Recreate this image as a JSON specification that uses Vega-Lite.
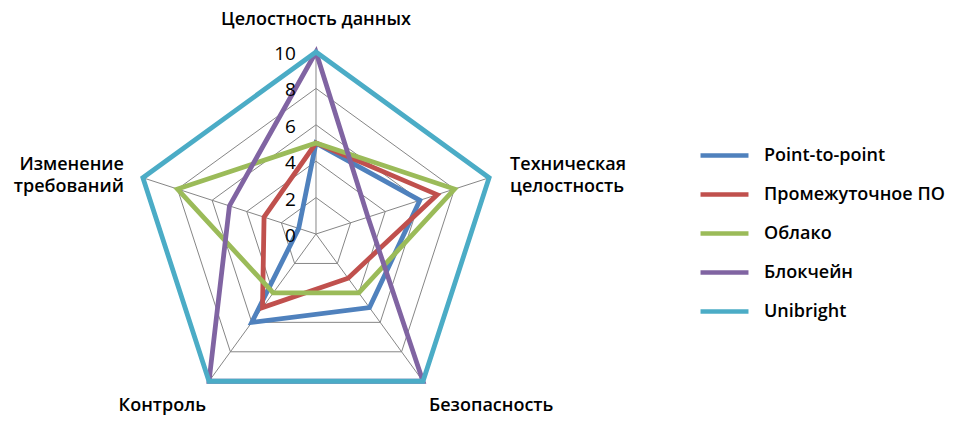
{
  "$schema": "https://vega.github.io/schema/vega-lite/v6.json",
  "width": 960,
  "height": 426,
  "autosize": "none",
  "padding": 0,
  "background": "white",
  "config": {
    "view": {"stroke": null},
    "font": "Open Sans",
    "legend": {
      "orient": "none",
      "legendX": 698,
      "legendY": 129,
      "title": null,
      "symbolType": "stroke",
      "symbolSize": 2300,
      "symbolStrokeWidth": 4.5,
      "labelFont": "Open Sans",
      "labelFontSize": 18,
      "labelFontWeight": 600,
      "labelColor": "#000000",
      "labelLimit": 400,
      "labelOffset": 13,
      "rowPadding": 3
    }
  },
  "datasets": {
    "scores": [
      {"series": "Point-to-point", "axis": "Целостность данных", "value": 5},
      {"series": "Point-to-point", "axis": "Техническая целостность", "value": 6},
      {"series": "Point-to-point", "axis": "Безопасность", "value": 5},
      {"series": "Point-to-point", "axis": "Контроль", "value": 6},
      {"series": "Point-to-point", "axis": "Изменение требований", "value": 1},
      {"series": "Промежуточное ПО", "axis": "Целостность данных", "value": 5},
      {"series": "Промежуточное ПО", "axis": "Техническая целостность", "value": 7},
      {"series": "Промежуточное ПО", "axis": "Безопасность", "value": 3},
      {"series": "Промежуточное ПО", "axis": "Контроль", "value": 5},
      {"series": "Промежуточное ПО", "axis": "Изменение требований", "value": 3},
      {"series": "Облако", "axis": "Целостность данных", "value": 5},
      {"series": "Облако", "axis": "Техническая целостность", "value": 8},
      {"series": "Облако", "axis": "Безопасность", "value": 4},
      {"series": "Облако", "axis": "Контроль", "value": 4},
      {"series": "Облако", "axis": "Изменение требований", "value": 8},
      {"series": "Блокчейн", "axis": "Целостность данных", "value": 10},
      {"series": "Блокчейн", "axis": "Техническая целостность", "value": 3},
      {"series": "Блокчейн", "axis": "Безопасность", "value": 10},
      {"series": "Блокчейн", "axis": "Контроль", "value": 10},
      {"series": "Блокчейн", "axis": "Изменение требований", "value": 5},
      {"series": "Unibright", "axis": "Целостность данных", "value": 10},
      {"series": "Unibright", "axis": "Техническая целостность", "value": 10},
      {"series": "Unibright", "axis": "Безопасность", "value": 10},
      {"series": "Unibright", "axis": "Контроль", "value": 10},
      {"series": "Unibright", "axis": "Изменение требований", "value": 10}
    ],
    "axes": [
      {"axis": "Целостность данных", "levels": [2, 4, 6, 8, 10]},
      {"axis": "Техническая целостность", "levels": [2, 4, 6, 8, 10]},
      {"axis": "Безопасность", "levels": [2, 4, 6, 8, 10]},
      {"axis": "Контроль", "levels": [2, 4, 6, 8, 10]},
      {"axis": "Изменение требований", "levels": [2, 4, 6, 8, 10]}
    ],
    "ticks": [
      {"tick": 0}, {"tick": 2}, {"tick": 4}, {"tick": 6}, {"tick": 8}, {"tick": 10}
    ]
  },
  "layer": [
    {
      "data": {"name": "axes"},
      "transform": [
        {"flatten": ["levels"], "as": ["level"]},
        {"calculate": "indexof(['Целостность данных','Техническая целостность','Безопасность','Контроль','Изменение требований'], datum.axis)", "as": "idx"},
        {"calculate": "datum.level * sin(datum.idx * 2 * PI / 5)", "as": "px"},
        {"calculate": "datum.level * cos(datum.idx * 2 * PI / 5)", "as": "py"}
      ],
      "mark": {"type": "line", "interpolate": "linear-closed", "color": "#868686", "strokeWidth": 1},
      "encoding": {
        "x": {"field": "px", "type": "quantitative", "scale": {"domain": [-17.36, 35.38], "nice": false, "zero": false}, "axis": null},
        "y": {"field": "py", "type": "quantitative", "scale": {"domain": [-10.55, 12.86], "nice": false, "zero": false}, "axis": null},
        "detail": {"field": "level", "type": "nominal"},
        "order": {"field": "idx", "type": "quantitative"}
      }
    },
    {
      "data": {"name": "axes"},
      "transform": [
        {"calculate": "indexof(['Целостность данных','Техническая целостность','Безопасность','Контроль','Изменение требований'], datum.axis)", "as": "idx"},
        {"calculate": "10 * sin(datum.idx * 2 * PI / 5)", "as": "px"},
        {"calculate": "10 * cos(datum.idx * 2 * PI / 5)", "as": "py"},
        {"calculate": "0", "as": "o"}
      ],
      "mark": {"type": "rule", "color": "#868686", "strokeWidth": 1},
      "encoding": {
        "x": {"field": "o", "type": "quantitative"},
        "y": {"field": "o", "type": "quantitative"},
        "x2": {"field": "px"},
        "y2": {"field": "py"}
      }
    },
    {
      "data": {"name": "scores"},
      "transform": [
        {"calculate": "indexof(['Целостность данных','Техническая целостность','Безопасность','Контроль','Изменение требований'], datum.axis)", "as": "idx"},
        {"calculate": "datum.value * sin(datum.idx * 2 * PI / 5)", "as": "px"},
        {"calculate": "datum.value * cos(datum.idx * 2 * PI / 5)", "as": "py"}
      ],
      "mark": {"type": "line", "interpolate": "linear-closed", "strokeWidth": 4.8},
      "encoding": {
        "x": {"field": "px", "type": "quantitative"},
        "y": {"field": "py", "type": "quantitative"},
        "color": {
          "field": "series",
          "type": "nominal",
          "scale": {
            "domain": ["Point-to-point", "Промежуточное ПО", "Облако", "Блокчейн", "Unibright"],
            "range": ["#4F81BD", "#C0504D", "#9BBB59", "#8064A2", "#4BACC6"]
          }
        },
        "order": {"field": "idx", "type": "quantitative"}
      }
    },
    {
      "data": {"name": "ticks"},
      "transform": [{"calculate": "0", "as": "o"}],
      "mark": {"type": "text", "align": "right", "baseline": "middle", "dx": -20, "dy": 2, "fontSize": 19, "font": "Open Sans", "color": "#000000"},
      "encoding": {
        "x": {"field": "o", "type": "quantitative"},
        "y": {"field": "tick", "type": "quantitative"},
        "text": {"field": "tick", "type": "quantitative"}
      }
    },
    {
      "data": {"name": "axes"},
      "transform": [
        {"filter": "datum.axis == 'Целостность данных'"},
        {"calculate": "0", "as": "px"},
        {"calculate": "10", "as": "py"}
      ],
      "mark": {"type": "text", "align": "center", "baseline": "middle", "dy": -32, "fontSize": 18, "fontWeight": 600, "font": "Open Sans", "color": "#000000"},
      "encoding": {
        "x": {"field": "px", "type": "quantitative"},
        "y": {"field": "py", "type": "quantitative"},
        "text": {"field": "axis"}
      }
    },
    {
      "data": {"name": "axes"},
      "transform": [
        {"filter": "datum.axis == 'Техническая целостность'"},
        {"calculate": "10 * sin(2 * PI / 5)", "as": "px"},
        {"calculate": "10 * cos(2 * PI / 5)", "as": "py"}
      ],
      "mark": {"type": "text", "align": "left", "baseline": "middle", "dx": 21, "dy": -13, "lineBreak": " ", "lineHeight": 22, "fontSize": 18, "fontWeight": 600, "font": "Open Sans", "color": "#000000"},
      "encoding": {
        "x": {"field": "px", "type": "quantitative"},
        "y": {"field": "py", "type": "quantitative"},
        "text": {"field": "axis"}
      }
    },
    {
      "data": {"name": "axes"},
      "transform": [
        {"filter": "datum.axis == 'Изменение требований'"},
        {"calculate": "10 * sin(8 * PI / 5)", "as": "px"},
        {"calculate": "10 * cos(8 * PI / 5)", "as": "py"}
      ],
      "mark": {"type": "text", "align": "right", "baseline": "middle", "dx": -19, "dy": -13, "lineBreak": " ", "lineHeight": 22, "fontSize": 18, "fontWeight": 600, "font": "Open Sans", "color": "#000000"},
      "encoding": {
        "x": {"field": "px", "type": "quantitative"},
        "y": {"field": "py", "type": "quantitative"},
        "text": {"field": "axis"}
      }
    },
    {
      "data": {"name": "axes"},
      "transform": [
        {"filter": "datum.axis == 'Безопасность'"},
        {"calculate": "10 * sin(4 * PI / 5)", "as": "px"},
        {"calculate": "10 * cos(4 * PI / 5)", "as": "py"}
      ],
      "mark": {"type": "text", "align": "left", "baseline": "middle", "dx": 6, "dy": 25, "fontSize": 18, "fontWeight": 600, "font": "Open Sans", "color": "#000000"},
      "encoding": {
        "x": {"field": "px", "type": "quantitative"},
        "y": {"field": "py", "type": "quantitative"},
        "text": {"field": "axis"}
      }
    },
    {
      "data": {"name": "axes"},
      "transform": [
        {"filter": "datum.axis == 'Контроль'"},
        {"calculate": "10 * sin(6 * PI / 5)", "as": "px"},
        {"calculate": "10 * cos(6 * PI / 5)", "as": "py"}
      ],
      "mark": {"type": "text", "align": "right", "baseline": "middle", "dx": -3, "dy": 25, "fontSize": 18, "fontWeight": 600, "font": "Open Sans", "color": "#000000"},
      "encoding": {
        "x": {"field": "px", "type": "quantitative"},
        "y": {"field": "py", "type": "quantitative"},
        "text": {"field": "axis"}
      }
    }
  ]
}
